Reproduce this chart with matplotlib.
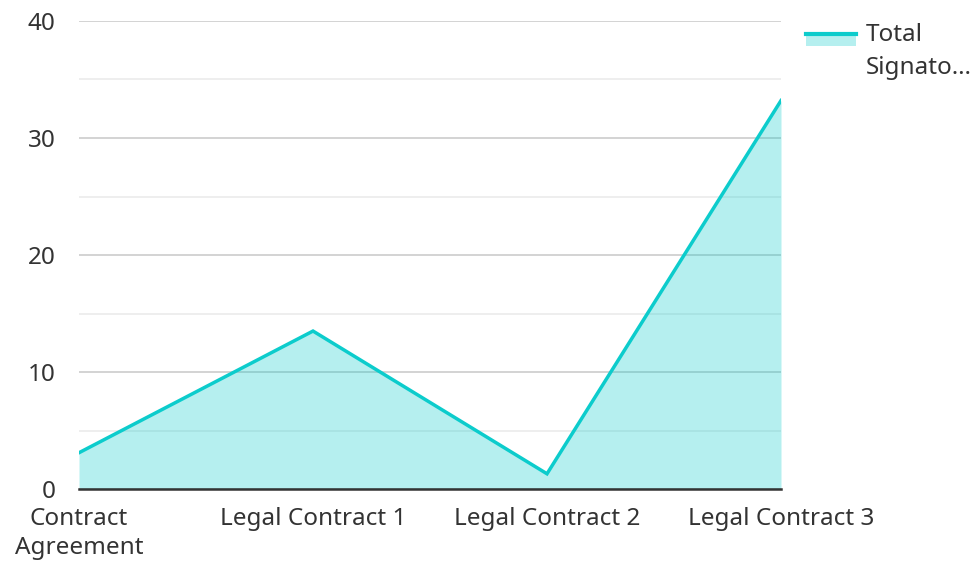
import matplotlib.pyplot as plt
from matplotlib.patches import Rectangle
from matplotlib.lines import Line2D
import numpy as np

categories = ["Contract\nAgreement", "Legal Contract 1", "Legal Contract 2", "Legal Contract 3"]
total_signatories = [3.1, 13.5, 1.3, 33.2]
series_name = ["Total", "Signato…"]

line_color = "#0ccccc"
text_color = "#333333"
fs = 17.5

plt.rcParams["font.family"] = ["Noto Sans", "DejaVu Sans"]

W, H = 976, 562
fig = plt.figure(figsize=(W / 100, H / 100), dpi=100)
ax = fig.add_axes([79 / W, 1 - 489 / H, (781 - 79) / W, (489 - 21) / H])

x = np.arange(len(categories))
ax.fill_between(x, 0, total_signatories, color=line_color, alpha=0.3, lw=0, zorder=2)
ax.plot(x, total_signatories, color=line_color, lw=2.5, zorder=3, solid_joinstyle="miter")

ax.set_xlim(0, len(categories) - 1)
ax.set_ylim(0, 40)
ax.set_yticks([0, 10, 20, 30, 40])
ax.set_yticks([5, 15, 25, 35], minor=True)
ax.grid(axis="y", which="major", color="#cccccc", lw=1.2, zorder=1)
ax.grid(axis="y", which="minor", color="#ebebeb", lw=1.2, zorder=1)
ax.set_axisbelow(True)
for s in ["top", "right", "left"]:
    ax.spines[s].set_visible(False)
ax.spines["bottom"].set_color(text_color)
ax.spines["bottom"].set_linewidth(1.8)
ax.spines["bottom"].set_zorder(4)

ax.set_xticks(x)
ax.set_xticklabels(categories, fontsize=fs, color=text_color, linespacing=1.3)
ax.tick_params(axis="both", which="both", length=0)
ax.tick_params(axis="x", pad=13)
ax.tick_params(axis="y", pad=17, labelsize=fs, labelcolor=text_color)

# legend
fig.add_artist(Rectangle((806 / W, 1 - 46 / H), 50 / W, 14 / H, transform=fig.transFigure,
                         facecolor=line_color, alpha=0.3, edgecolor="none"))
fig.add_artist(Line2D([806 / W, 856 / W], [1 - 33.5 / H] * 2, transform=fig.transFigure,
                      color=line_color, lw=3))
fig.text(866 / W, 1 - 35 / H, series_name[0], fontsize=fs, color=text_color, va="center")
fig.text(866 / W, 1 - 68 / H, series_name[1], fontsize=fs, color=text_color, va="center")

fig.savefig("out.png", dpi=100)
